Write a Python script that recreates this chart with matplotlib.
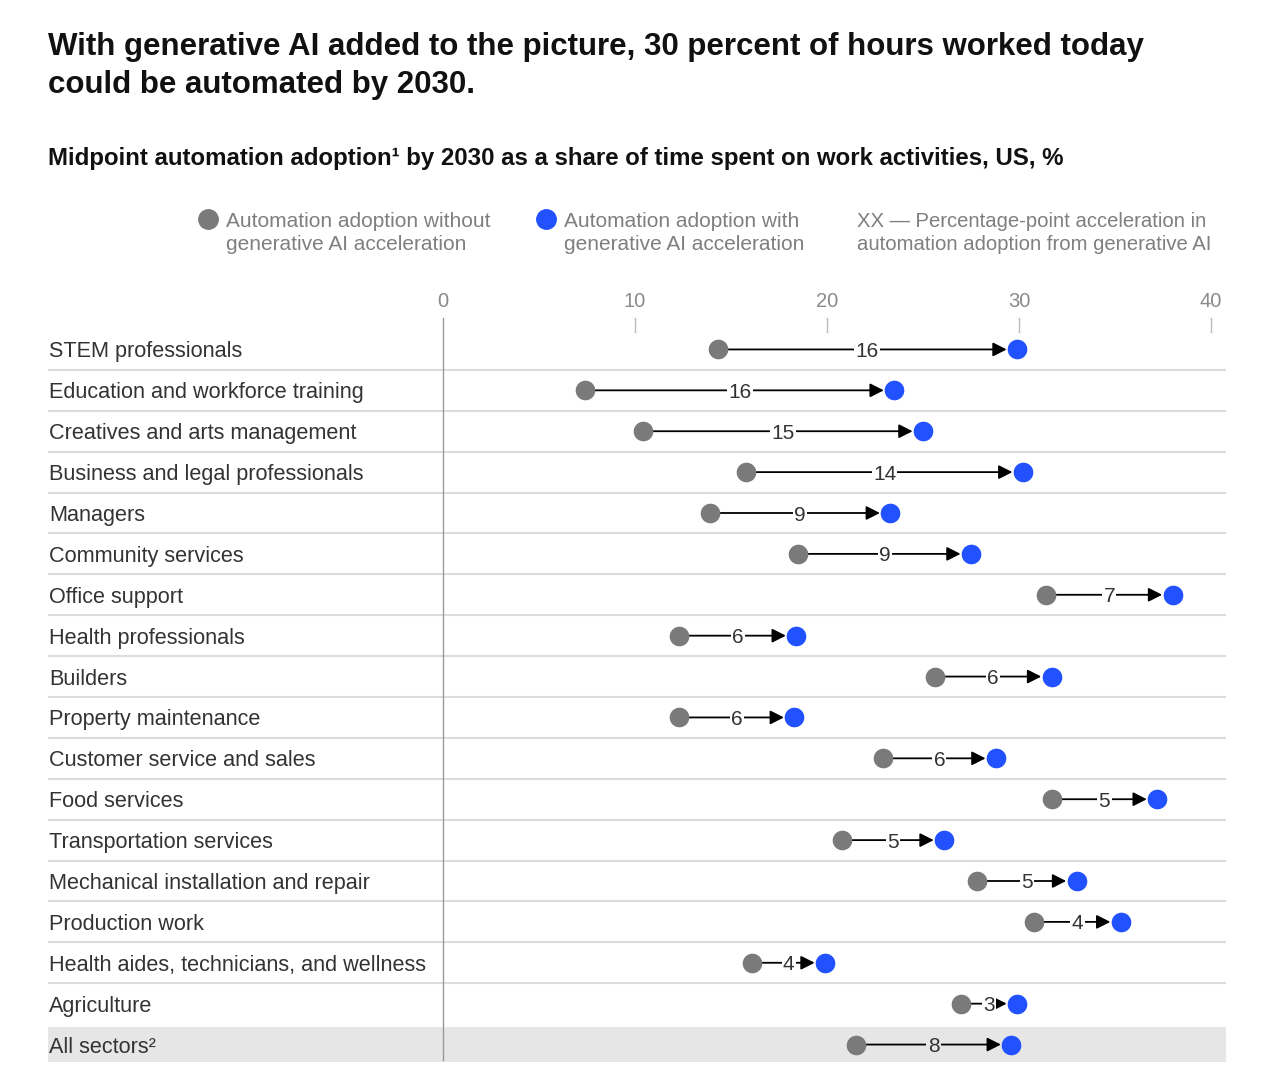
import matplotlib
matplotlib.use("Agg")
import matplotlib.pyplot as plt
from matplotlib.lines import Line2D
from matplotlib.patches import Rectangle

categories = [
    "STEM professionals",
    "Education and workforce training",
    "Creatives and arts management",
    "Business and legal professionals",
    "Managers",
    "Community services",
    "Office support",
    "Health professionals",
    "Builders",
    "Property maintenance",
    "Customer service and sales",
    "Food services",
    "Transportation services",
    "Mechanical installation and repair",
    "Production work",
    "Health aides, technicians, and wellness",
    "Agriculture",
    "All sectors\u00b2",
]
without_genai = [14.3, 7.4, 10.4, 15.8, 13.9, 18.5, 31.4, 12.3, 25.6, 12.3, 22.9, 31.7, 20.8, 27.8, 30.8, 16.1, 27.0, 21.5]
with_genai = [29.9, 23.5, 25.0, 30.2, 23.3, 27.5, 38.0, 18.4, 31.7, 18.3, 28.8, 37.2, 26.1, 33.0, 35.3, 19.9, 29.9, 29.6]
acceleration = ["16", "16", "15", "14", "9", "9", "7", "6", "6", "6", "6", "5", "5", "5", "4", "4", "3", "8"]
ticks = [0, 10, 20, 30, 40]

GRAY = "#7a7a7a"
BLUE = "#2251ff"
TXT = "#333333"
LIGHT = "#7f7f7f"
FONT = "Liberation Sans"

W, H = 1288, 1082
fig = plt.figure(figsize=(W / 100, H / 100), dpi=100)
fig.patch.set_facecolor("white")

def fx(px):
    return px / W

def fy(py):
    return 1 - py / H

# axes geometry (pixels)
ax_l, ax_r, ax_t, ax_b = 48, 1226, 329, 1065
ax = fig.add_axes([fx(ax_l), fy(ax_b), (ax_r - ax_l) / W, (ax_b - ax_t) / H])
ppu = 19.2  # pixels per unit
x0px = 443
ax.set_xlim(-(x0px - ax_l) / ppu, (ax_r - x0px) / ppu)
n = len(categories)
ax.set_ylim(n - 0.5, -0.5)
ax.axis("off")
row_h = (ax_b - ax_t) / n

def ydata(py):
    return -0.5 + (py - ax_t) / row_h

# title & subtitle
fig.text(fx(48), fy(66), "With generative AI added to the picture, 30 percent of hours worked today\ncould be automated by 2030.",
         ha="left", va="center", fontsize=22.5, fontweight="bold", color="#111111", family=FONT, linespacing=1.32)
fig.text(fx(48), fy(159), "Midpoint automation adoption\u00b9 by 2030 as a share of time spent on work activities, US, %",
         ha="left", va="center", fontsize=17.3, fontweight="bold", color="#111111", family=FONT)

# legend
leg_fs = 15
fig.add_artist(Line2D([fx(208)], [fy(219)], marker="o", markersize=14, color=GRAY, transform=fig.transFigure, linestyle="none"))
fig.text(fx(226), fy(233), "Automation adoption without\ngenerative AI acceleration", ha="left", va="center",
         fontsize=leg_fs, color=LIGHT, family=FONT, linespacing=1.33)
fig.add_artist(Line2D([fx(546)], [fy(219)], marker="o", markersize=14, color=BLUE, transform=fig.transFigure, linestyle="none"))
fig.text(fx(564), fy(233), "Automation adoption with\ngenerative AI acceleration", ha="left", va="center",
         fontsize=leg_fs, color=LIGHT, family=FONT, linespacing=1.33)
fig.text(fx(857), fy(233), "XX \u2014 Percentage-point acceleration in\nautomation adoption from generative AI", ha="left", va="center",
         fontsize=leg_fs * 0.97, color=LIGHT, family=FONT, linespacing=1.33)

# all sectors band
ax.add_patch(Rectangle((ax.get_xlim()[0], n - 1 - 0.42), ax.get_xlim()[1] - ax.get_xlim()[0], 0.84,
                       facecolor="#e6e6e6", edgecolor="none", zorder=0))

# separators
for i in range(n - 2):
    ax.axhline(i + 0.5, color="#dcdcdc", lw=1.5, zorder=1)

# zero line and ticks
ax.plot([0, 0], [ydata(318), ydata(1060)], color="#999999", lw=1, clip_on=False, zorder=2)
for t in ticks:
    ax.text(t, ydata(301), str(t), ha="center", va="center", fontsize=14.5, color="#8a8a8a", family=FONT, clip_on=False)
    if t != 0:
        ax.plot([t, t], [ydata(318), ydata(332)], color="#bbbbbb", lw=1, clip_on=False)

# rows
for i, (cat, a, b, lab) in enumerate(zip(categories, without_genai, with_genai, acceleration)):
    ax.text(ax.get_xlim()[0] + 0.05, i, cat, ha="left", va="center_baseline", fontsize=15.6, color=TXT, family=FONT)
    ax.annotate("", xy=(b, i), xytext=(a, i),
                arrowprops=dict(arrowstyle="-|>,head_length=0.75,head_width=0.38", color="black", lw=1.3,
                                shrinkA=0, shrinkB=7.5, mutation_scale=11), zorder=3)
    ax.text((a + b) / 2, i, lab, ha="center", va="center_baseline", fontsize=15, color=TXT, family=FONT, zorder=4,
            bbox=dict(boxstyle="square,pad=0.06", facecolor="white" if i < n - 1 else "#e6e6e6", edgecolor="none"))
    ax.scatter([a], [i], s=200, color=GRAY, zorder=5, linewidths=0)
    ax.scatter([b], [i], s=200, color=BLUE, zorder=5, linewidths=0)

fig.savefig("out.png", dpi=100)
